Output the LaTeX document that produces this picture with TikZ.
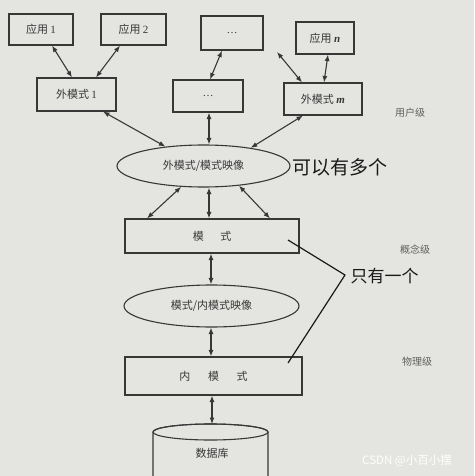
\documentclass[tikz,border=0pt]{standalone}
\usepackage{fontspec}
\setmainfont{Noto Sans CJK SC}
\newfontfamily\ser{Liberation Serif}
\usetikzlibrary{arrows.meta,shapes.geometric}
\definecolor{paper}{RGB}{228,228,225}
\definecolor{ink}{RGB}{55,55,55}
\definecolor{pen}{RGB}{25,25,25}
\tikzset{
  box/.style={draw=ink, line width=1.1pt, fill=paper, inner sep=0pt, font=\fontsize{11}{13}\selectfont, text=ink},
  oval/.style={ellipse, draw=ink, line width=1.1pt, fill=paper, inner sep=0pt, font=\fontsize{11}{13}\selectfont, text=ink},
  arr/.style={{Latex[length=6.5pt,width=5pt]}-{Latex[length=6.5pt,width=5pt]}, draw=ink, line width=1.1pt},
  level/.style={font=\fontsize{10}{12}\selectfont, text=ink!80},
  hand/.style={text=pen, font=\fontsize{19}{21}\selectfont\itshape},
}
\begin{document}
\begin{tikzpicture}[x=1pt,y=-1pt]
\fill[paper] (0,0) rectangle (474,476);
\useasboundingbox (0,0) rectangle (474,476);

% top application boxes
\node[box, minimum width=64pt, minimum height=31pt] (a1) at (41,29.5) {应用 {\ser 1}};
\node[box, minimum width=65pt, minimum height=31pt] (a2) at (133.5,29.5) {应用 {\ser 2}};
\node[box, minimum width=62pt, minimum height=34pt] (a3) at (232,33) {{\ser …}};
\node[box, minimum width=58pt, minimum height=32pt] (a4) at (325,38) {应用 {\ser\bfseries\itshape n}};

% external schema boxes
\node[box, minimum width=79pt, minimum height=33pt] (e1) at (76.5,94.5) {外模式 {\ser 1}};
\node[box, minimum width=70pt, minimum height=32pt] (e2) at (208,96) {{\ser …}};
\node[box, minimum width=78pt, minimum height=32pt] (e3) at (323,99) {外模式 {\ser\bfseries\itshape m}};

\node[level] (l1) at (410,113) {用户级};

% mapping ellipse
\node[oval, minimum width=173pt, minimum height=42pt] (m1) at (203.5,166) {外模式/模式映像};

% schema
\node[box, minimum width=174pt, minimum height=34pt] (s) at (212,236) {模\hspace{1.5em}式};
\node[level] (l2) at (415,250) {概念级};

\node[oval, minimum width=175pt, minimum height=42pt] (m2) at (211.5,306) {模式/内模式映像};

\node[box, minimum width=177pt, minimum height=38pt] (i) at (213.5,376) {内\hspace{1.6em}模\hspace{1.6em}式};
\node[level] (l3) at (417,362) {物理级};

% database cylinder
\coordinate (dbtop) at (212,424);
\fill[paper] (153,432) -- (153,480) -- (268,480) -- (268,432) -- cycle;
\draw[ink, line width=1.1pt] (153,480) -- (153,432) arc[start angle=180, end angle=360, x radius=57.5, y radius=8] -- (268,480);
\draw[ink, line width=1.1pt] (210.5,432) ellipse[x radius=57.5, y radius=8];
\node[font=\fontsize{11}{13}\selectfont, text=ink] (db) at (212,453) {数据库};

% connectors
\coordinate (f1) at (277,52);
\draw[arr] ([xshift=11pt]a1.south) -- ([xshift=-4.5pt]e1.north);
\draw[arr] ([xshift=-13.5pt]a2.south) -- ([xshift=19.5pt]e1.north);
\draw[arr] ([xshift=-10pt]a3.south) -- ([xshift=2pt]e2.north);
\draw[arr] (f1) -- ([xshift=-21pt]e3.north);
\draw[arr] ([xshift=3pt]a4.south) -- ([xshift=1pt]e3.north);

\draw[arr] ([xshift=26.5pt]e1.south) -- (m1.153);
\draw[arr] ([xshift=1pt]e2.south) -- ([xshift=5.5pt]m1.north);
\draw[arr] ([xshift=-20pt]e3.south) -- (m1.21);

\draw[arr] (m1.-137) -- ([xshift=-65pt]s.north);
\draw[arr] ([xshift=5.5pt]m1.south) -- ([xshift=-3pt]s.north);
\draw[arr] (m1.-29) -- ([xshift=58pt]s.north);

\draw[arr] ([xshift=-1pt]s.south) -- ([xshift=-0.5pt]m2.north);
\draw[arr] ([xshift=-0.5pt]m2.south) -- ([xshift=-2.5pt]i.north);
\draw[arr] ([xshift=-1.5pt]i.south) -- (dbtop);

% handwritten annotations
\node[hand, anchor=west] (h1) at (289,167) {可以有多个};
\draw[pen, line width=1.2pt, line join=round] (288,240) -- (345,275) -- (288,363);
\node[hand, anchor=west, font=\fontsize{17}{19}\selectfont] (h2) at (347,276) {只有一个};

% watermark
\node[text=white!95!paper, font=\fontsize{11.5}{13}\selectfont] (wm) at (407,461) {CSDN @小百小摆};
\end{tikzpicture}
\end{document}
